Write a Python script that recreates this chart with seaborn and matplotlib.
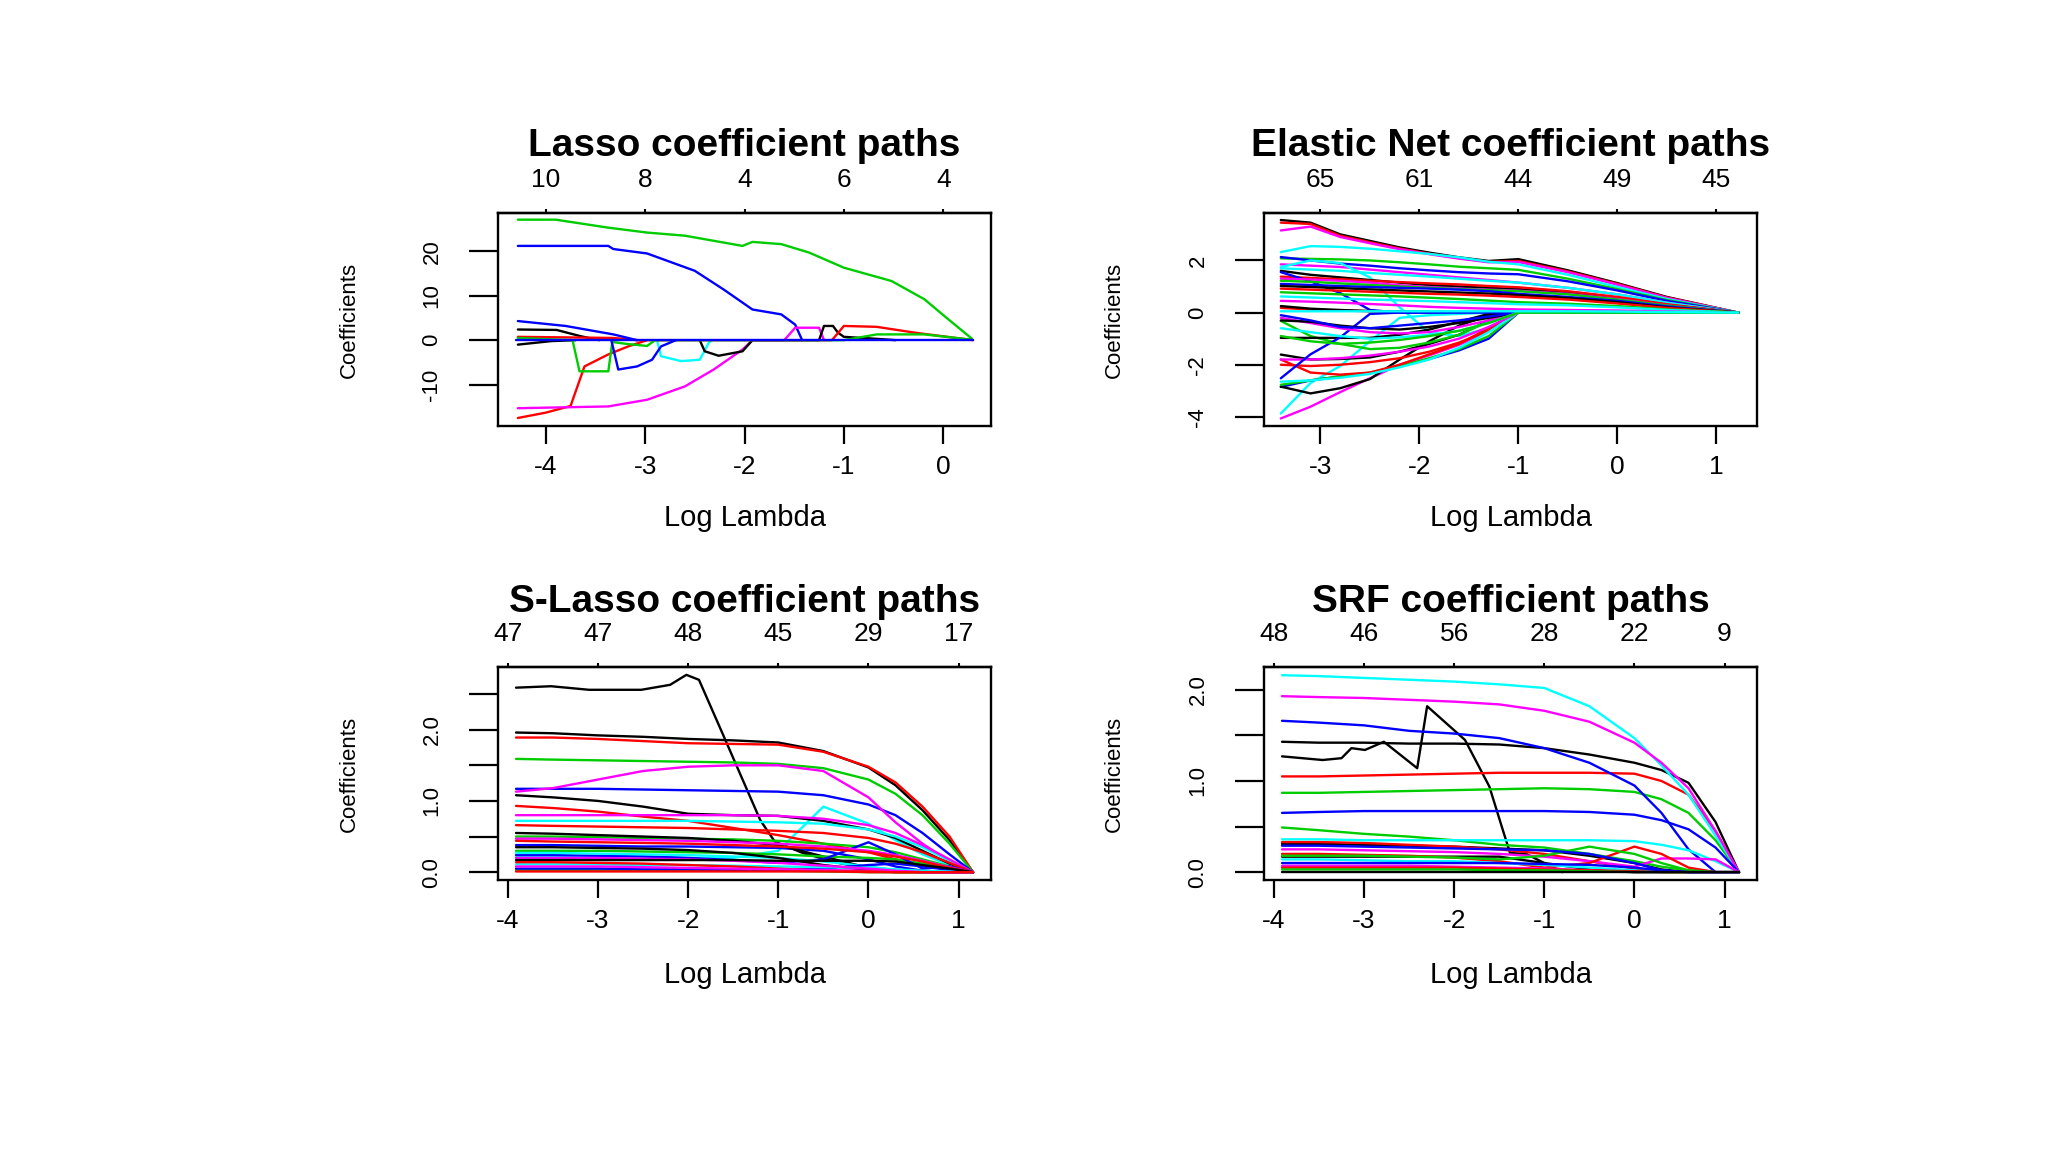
import numpy as np
import pandas as pd
import seaborn as sns
import matplotlib.pyplot as plt

# Set Theme
sns.set_theme(style="white", rc={"text.color": "black", "axes.labelcolor": "black",
                                 "xtick.color": "black", "ytick.color": "black"})
plt.rcParams["font.family"] = ["Liberation Sans", "DejaVu Sans"]

# R base palette 1:6 (glmnet plot colours)
R_PALETTE = {"k": "#000000", "r": "#FF0000", "g": "#00CD00",
             "b": "#0000FF", "c": "#00FFFF", "m": "#FF00FF"}

# ---------------- Lasso ----------------
LASSO_X = [
    [-4.28, -3.89, -3.65, -3.46],
    [-4.28, -3.94, -3.7],
    [-4.28, -4.0, -3.75, -3.61, -3.37, -3.17, -2.98],
    [-4.28, -3.9, -3.37, -2.98, -2.6, -2.02, -1.92, -1.63, -1.35, -1.0, -0.52, -0.19, 0.05, 0.29],
    [-4.28, -3.37, -3.32, -2.98, -2.5, -2.21, -1.92, -1.63, -1.49, -1.42],
    [-2.88, -2.84, -2.64, -2.45, -2.36, -2.33],
    [-4.28, -3.37, -2.98, -2.6, -2.31, -2.02, -1.92, -1.6, -1.49, -1.25, -1.2],
    [-2.45, -2.4, -2.26, -2.02, -1.92, -1.25, -1.2, -1.11, -1.06, -1.0, -0.67, -0.48],
    [-4.28, -3.32, -3.08, -1.12, -1.0, -0.67, -0.29, 0.3],
    [-4.28, -3.73, -3.66, -3.37, -3.33, -3.2, -2.98, -2.9, -1.0, -0.67, -0.19, 0.29],
    [-3.34, -3.27, -3.08, -2.93, -2.84, -2.69],
    [-4.28, -3.8, -3.32, -3.08],
    [-4.3, 0.3],
]
LASSO_Y = [
    [2.4, 2.3, 0.9, 0.0],
    [-1.0, -0.2, 0.0],
    [-17.5, -16.3, -14.8, -5.9, -3.2, -1.4, 0.0],
    [27.1, 27.1, 25.3, 24.2, 23.5, 21.2, 22.1, 21.6, 19.7, 16.3, 13.3, 9.2, 4.7, 0.3],
    [21.2, 21.2, 20.5, 19.5, 15.6, 11.4, 6.9, 5.8, 3.5, 0.0],
    [0.0, -3.6, -4.7, -4.4, -0.6, 0.0],
    [-15.3, -14.9, -13.4, -10.4, -6.6, -2.1, 0.0, 0.0, 2.8, 2.8, 0.0],
    [0.0, -2.5, -3.5, -2.5, 0.0, 0.0, 3.2, 3.2, 1.7, 0.75, 0.3, 0.0],
    [0.75, 0.5, 0.0, 0.0, 3.2, 3.0, 1.7, 0.0],
    [0.5, 0.0, -7.0, -7.0, -0.4, -0.8, -1.3, 0.0, 0.0, 1.3, 1.3, 0.1],
    [0.0, -6.6, -5.9, -4.4, -1.4, 0.0],
    [4.3, 3.2, 1.3, 0.0],
    [0.0, 0.0],
]
LASSO_COL = "kkrgbcmkrgbbb"
LASSO_DF_AT = [-4, -3, -2, -1, 0]
LASSO_DF = ["10", "8", "4", "6", "4"]

# ---------------- Elastic Net ----------------
EN_X = [-3.4, -3.1, -2.8, -2.5, -2.2, -1.9, -1.6, -1.3, -1.0, -0.5, 0.0, 0.5, 1.22]
EN_Y = [
    [3.55, 3.45, 3.0, 2.75, 2.5, 2.3, 2.12, 1.98, 2.05, 1.62, 1.13, 0.6, 0.0],
    [3.45, 3.4, 2.95, 2.7, 2.46, 2.26, 2.09, 1.95, 1.98, 1.58, 1.1, 0.58, 0.0],
    [3.15, 3.3, 2.9, 2.66, 2.43, 2.24, 2.07, 1.93, 1.94, 1.55, 1.07, 0.56, 0.0],
    [2.32, 2.55, 2.52, 2.45, 2.35, 2.25, 2.12, 1.95, 1.85, 1.45, 0.98, 0.52, 0.0],
    [2.08, 2.06, 2.04, 2.0, 1.93, 1.85, 1.76, 1.7, 1.64, 1.3, 0.9, 0.48, 0.0],
    [2.13, 2.0, 1.88, 1.8, 1.7, 1.62, 1.55, 1.5, 1.47, 1.2, 0.85, 0.45, 0.0],
    [1.85, 1.8, 1.75, 1.65, 1.55, 1.45, 1.35, 1.25, 1.15, 0.95, 0.7, 0.38, 0.0],
    [1.75, 2.0, 1.9, 1.35, 0.2, -0.77, -0.9, -0.6, 0.0, 0.0, 0.0, 0.0, 0.0],
    [1.7, 1.65, 1.6, 1.52, 1.45, 1.38, 1.3, 1.22, 1.15, 0.95, 0.7, 0.38, 0.0],
    [1.6, 1.45, 1.35, 1.25, 1.15, 1.05, 1.0, 0.95, 0.9, 0.78, 0.58, 0.3, 0.0],
    [1.38, 1.33, 1.28, 1.22, 1.17, 1.12, 1.08, 1.02, 0.97, 0.82, 0.6, 0.32, 0.0],
    [1.55, 1.2, 0.75, 0.1, 0.0, 0.0, 0.0, 0.0, 0.0, 0.0, 0.0, 0.0, 0.0],
    [1.3, 1.27, 1.22, 1.15, 1.05, 0.98, 0.92, 0.88, 0.84, 0.72, 0.52, 0.27, 0.0],
    [1.22, 1.18, 1.12, 1.06, 1.0, 0.95, 0.9, 0.86, 0.82, 0.7, 0.5, 0.27, 0.0],
    [1.1, 1.06, 1.02, 0.98, 0.95, 0.92, 0.88, 0.82, 0.72, 0.6, 0.45, 0.24, 0.0],
    [1.02, 0.98, 0.94, 0.89, 0.85, 0.81, 0.77, 0.73, 0.67, 0.56, 0.4, 0.2, 0.0],
    [0.92, 0.88, 0.84, 0.8, 0.76, 0.72, 0.69, 0.65, 0.6, 0.5, 0.35, 0.18, 0.0],
    [0.78, 0.74, 0.7, 0.66, 0.62, 0.57, 0.52, 0.46, 0.4, 0.34, 0.25, 0.12, 0.0],
    [0.62, 0.58, 0.54, 0.5, 0.47, 0.44, 0.4, 0.36, 0.32, 0.28, 0.2, 0.1, 0.0],
    [0.45, 0.42, 0.38, 0.33, 0.28, 0.22, 0.18, 0.15, 0.12, 0.1, 0.08, 0.04, 0.0],
    [0.18, 0.12, 0.08, 0.05, 0.04, 0.03, 0.02, 0.02, 0.02, 0.02, 0.01, 0.0, 0.0],
    [0.25, 0.15, 0.1, 0.06, 0.04, 0.03, 0.02, 0.02, 0.02, 0.01, 0.0, 0.0, 0.0],
    [-4.06, -3.61, -3.05, -2.52, -2.0, -1.64, -1.24, -0.71, 0.0, 0.0, 0.0, 0.0, 0.0],
    [-3.87, -2.7, -2.05, -1.1, -0.2, -0.1, -0.05, 0.0, 0.0, 0.0, 0.0, 0.0, 0.0],
    [-2.85, -2.6, -2.45, -2.32, -2.06, -1.78, -1.45, -1.0, 0.0, 0.0, 0.0, 0.0, 0.0],
    [-2.84, -3.1, -2.9, -2.55, -1.8, -1.1, -0.5, -0.1, 0.0, 0.0, 0.0, 0.0, 0.0],
    [-2.77, -2.6, -2.45, -2.3, -2.05, -1.75, -1.4, -0.9, 0.0, 0.0, 0.0, 0.0, 0.0],
    [-1.8, -2.3, -2.38, -2.3, -2.0, -1.6, -1.2, -0.6, 0.0, 0.0, 0.0, 0.0, 0.0],
    [-2.0, -2.05, -2.0, -1.9, -1.75, -1.5, -1.15, -0.7, 0.0, 0.0, 0.0, 0.0, 0.0],
    [-2.65, -2.6, -2.5, -2.35, -2.1, -1.8, -1.35, -0.75, 0.0, 0.0, 0.0, 0.0, 0.0],
    [-1.61, -1.8, -1.78, -1.72, -1.5, -1.2, -0.85, -0.3, 0.0, 0.0, 0.0, 0.0, 0.0],
    [-1.8, -1.8, -1.75, -1.65, -1.5, -1.3, -1.0, -0.55, 0.0, 0.0, 0.0, 0.0, 0.0],
    [-0.32, -0.9, -1.2, -1.4, -1.35, -1.15, -0.85, -0.35, 0.0, 0.0, 0.0, 0.0, 0.0],
    [-0.97, -0.97, -0.97, -0.97, -0.85, -0.65, -0.35, -0.05, 0.0, 0.0, 0.0, 0.0, 0.0],
    [-2.52, -1.6, -0.95, -0.05, 0.0, 0.0, 0.0, 0.0, 0.0, 0.0, 0.0, 0.0, 0.0],
    [-0.2, -0.4, -0.6, -0.75, -0.8, -0.75, -0.55, -0.3, 0.0, 0.0, 0.0, 0.0, 0.0],
    [-0.3, -0.35, -0.5, -0.6, -0.65, -0.55, -0.4, -0.2, 0.0, 0.0, 0.0, 0.0, 0.0],
    [-0.1, -0.3, -0.55, -0.6, -0.5, -0.4, -0.3, -0.15, 0.0, 0.0, 0.0, 0.0, 0.0],
    [-0.6, -0.75, -0.9, -1.0, -0.95, -0.85, -0.7, -0.4, 0.0, 0.0, 0.0, 0.0, 0.0],
    [-0.9, -1.1, -1.2, -1.15, -1.05, -0.9, -0.7, -0.4, 0.0, 0.0, 0.0, 0.0, 0.0],
    [0.05, 0.05, 0.05, 0.05, 0.05, 0.05, 0.05, 0.05, 0.05, 0.05, 0.04, 0.02, 0.0],
]
EN_COL = "krmcgbmcckrbmgbkrgcmrk" + "mcbkgrrckmgkbmkbcgc"
EN_DF_AT = [-3, -2, -1, 0, 1]
EN_DF = ["65", "61", "44", "49", "45"]

# ---------------- S-Lasso ----------------
SL_X = [-3.91, -3.5, -3.0, -2.5, -2.0, -1.5, -1.0, -0.5, 0.0, 0.3, 0.6, 0.9, 1.16]
SL_PEAK_X = [-3.91, -3.52, -3.1, -2.52, -2.2, -2.02, -1.88, -1.62, -1.41, -1.2, -1.04, -0.73, -0.3, 0.2, 0.6, 1.16]
SL_PEAK_Y = [2.59, 2.61, 2.56, 2.56, 2.63, 2.77, 2.7, 1.95, 1.34, 0.73, 0.43, 0.27, 0.12, 0.04, 0.01, 0.0]
SL_Y = [
    [1.96, 1.95, 1.92, 1.9, 1.87, 1.85, 1.82, 1.7, 1.47, 1.22, 0.87, 0.45, 0.0],
    [1.89, 1.89, 1.87, 1.84, 1.81, 1.8, 1.79, 1.69, 1.48, 1.26, 0.92, 0.5, 0.0],
    [1.59, 1.58, 1.57, 1.56, 1.55, 1.54, 1.52, 1.46, 1.3, 1.1, 0.8, 0.4, 0.0],
    [1.17, 1.17, 1.17, 1.16, 1.15, 1.14, 1.13, 1.08, 0.95, 0.8, 0.55, 0.25, 0.0],
    [0.22, 0.22, 0.22, 0.22, 0.2, 0.2, 0.3, 0.92, 0.68, 0.45, 0.25, 0.1, 0.0],
    [1.13, 1.18, 1.3, 1.42, 1.48, 1.5, 1.5, 1.42, 1.05, 0.7, 0.4, 0.15, 0.0],
    [1.08, 1.05, 1.0, 0.92, 0.82, 0.8, 0.79, 0.72, 0.6, 0.48, 0.3, 0.12, 0.0],
    [0.93, 0.9, 0.85, 0.78, 0.72, 0.62, 0.52, 0.4, 0.28, 0.18, 0.1, 0.04, 0.0],
    [0.5, 0.5, 0.49, 0.48, 0.47, 0.46, 0.44, 0.4, 0.35, 0.28, 0.18, 0.08, 0.0],
    [0.38, 0.38, 0.37, 0.36, 0.36, 0.35, 0.34, 0.3, 0.18, 0.08, 0.02, 0.0, 0.0],
    [0.72, 0.72, 0.72, 0.72, 0.72, 0.71, 0.7, 0.68, 0.6, 0.5, 0.35, 0.16, 0.0],
    [0.8, 0.8, 0.8, 0.8, 0.8, 0.8, 0.79, 0.75, 0.66, 0.55, 0.38, 0.18, 0.0],
    [0.55, 0.54, 0.52, 0.5, 0.48, 0.44, 0.38, 0.22, 0.06, 0.02, 0.0, 0.0, 0.0],
    [0.66, 0.65, 0.64, 0.63, 0.62, 0.6, 0.58, 0.55, 0.48, 0.4, 0.28, 0.13, 0.0],
    [0.3, 0.3, 0.3, 0.29, 0.28, 0.27, 0.25, 0.22, 0.2, 0.18, 0.12, 0.05, 0.0],
    [0.24, 0.24, 0.23, 0.22, 0.2, 0.17, 0.13, 0.18, 0.42, 0.25, 0.05, 0.08, 0.0],
    [0.27, 0.27, 0.26, 0.25, 0.24, 0.22, 0.2, 0.15, 0.08, 0.03, 0.0, 0.0, 0.0],
    [0.47, 0.47, 0.46, 0.45, 0.44, 0.42, 0.4, 0.36, 0.3, 0.24, 0.16, 0.07, 0.0],
    [0.35, 0.35, 0.34, 0.33, 0.31, 0.27, 0.2, 0.1, 0.03, 0.0, 0.0, 0.0, 0.0],
    [0.44, 0.43, 0.42, 0.41, 0.4, 0.38, 0.36, 0.33, 0.28, 0.22, 0.15, 0.06, 0.0],
    [0.03, 0.03, 0.03, 0.03, 0.02, 0.02, 0.02, 0.01, 0.0, 0.0, 0.0, 0.0, 0.0],
    [0.05, 0.05, 0.05, 0.04, 0.04, 0.03, 0.03, 0.05, 0.1, 0.12, 0.08, 0.03, 0.0],
    [0.11, 0.11, 0.11, 0.1, 0.1, 0.09, 0.08, 0.07, 0.06, 0.04, 0.02, 0.01, 0.0],
    [0.2, 0.2, 0.2, 0.19, 0.18, 0.16, 0.13, 0.09, 0.05, 0.02, 0.0, 0.0, 0.0],
    [0.17, 0.17, 0.17, 0.17, 0.17, 0.17, 0.16, 0.16, 0.16, 0.15, 0.1, 0.05, 0.0],
    [0.14, 0.14, 0.13, 0.12, 0.1, 0.08, 0.05, 0.02, 0.0, 0.0, 0.0, 0.0, 0.0],
    [0.08, 0.08, 0.08, 0.07, 0.06, 0.05, 0.04, 0.03, 0.02, 0.01, 0.0, 0.0, 0.0],
    [0.01, 0.01, 0.01, 0.01, 0.01, 0.01, 0.01, 0.01, 0.01, 0.0, 0.0, 0.0, 0.0],
]
SL_COL = "k" + "krgbcmkrgbcmkrgbcmkrgbcmkrm" + "r"
SL_DF_AT = [-4, -3, -2, -1, 0, 1]
SL_DF = ["47", "47", "48", "45", "29", "17"]

# ---------------- SRF ----------------
SRF_X = [-3.91, -3.5, -3.0, -2.5, -2.0, -1.5, -1.0, -0.5, 0.0, 0.3, 0.6, 0.9, 1.16]
SRF_WIGGLE_X = [-3.91, -3.46, -3.25, -3.14, -2.99, -2.78, -2.41, -2.3, -1.88, -1.61, -1.45, -1.38, -1.2, -1.0, -0.8]
SRF_WIGGLE_Y = [1.27, 1.23, 1.25, 1.36, 1.34, 1.43, 1.14, 1.82, 1.45, 0.94, 0.43, 0.21, 0.2, 0.1, 0.0]
SRF_Y = [
    [1.43, 1.42, 1.42, 1.41, 1.41, 1.4, 1.36, 1.29, 1.2, 1.12, 0.98, 0.55, 0.0],
    [1.05, 1.05, 1.06, 1.07, 1.08, 1.09, 1.09, 1.09, 1.08, 1.0, 0.85, 0.45, 0.0],
    [0.87, 0.87, 0.88, 0.89, 0.9, 0.91, 0.92, 0.91, 0.88, 0.8, 0.65, 0.35, 0.0],
    [1.66, 1.64, 1.61, 1.55, 1.52, 1.47, 1.36, 1.2, 0.95, 0.65, 0.25, 0.0, 0.0],
    [2.16, 2.15, 2.13, 2.11, 2.09, 2.06, 2.02, 1.82, 1.47, 1.17, 0.85, 0.4, 0.0],
    [1.93, 1.92, 1.91, 1.89, 1.87, 1.84, 1.77, 1.65, 1.42, 1.2, 0.92, 0.45, 0.0],
    [0.31, 0.31, 0.3, 0.29, 0.28, 0.26, 0.24, 0.18, 0.1, 0.03, 0.0, 0.0, 0.0],
    [0.33, 0.33, 0.32, 0.3, 0.28, 0.25, 0.2, 0.12, 0.04, 0.0, 0.0, 0.0, 0.0],
    [0.49, 0.46, 0.42, 0.39, 0.35, 0.3, 0.27, 0.2, 0.12, 0.06, 0.02, 0.0, 0.0],
    [0.65, 0.66, 0.67, 0.67, 0.67, 0.67, 0.67, 0.66, 0.63, 0.57, 0.47, 0.27, 0.0],
    [0.36, 0.36, 0.35, 0.35, 0.35, 0.35, 0.35, 0.35, 0.34, 0.3, 0.24, 0.12, 0.0],
    [0.25, 0.25, 0.24, 0.23, 0.22, 0.2, 0.17, 0.12, 0.06, 0.15, 0.15, 0.14, 0.0],
    [0.17, 0.17, 0.17, 0.17, 0.17, 0.17, 0.1, 0.03, 0.0, 0.0, 0.0, 0.0, 0.0],
    [0.2, 0.2, 0.19, 0.18, 0.16, 0.12, 0.05, 0.1, 0.28, 0.2, 0.05, 0.0, 0.0],
    [0.18, 0.18, 0.18, 0.17, 0.16, 0.14, 0.18, 0.28, 0.2, 0.1, 0.02, 0.0, 0.0],
    [0.29, 0.29, 0.28, 0.27, 0.26, 0.25, 0.24, 0.2, 0.1, 0.02, 0.0, 0.0, 0.0],
    [0.14, 0.14, 0.13, 0.12, 0.12, 0.1, 0.08, 0.05, 0.02, 0.0, 0.0, 0.0, 0.0],
    [0.07, 0.07, 0.07, 0.07, 0.06, 0.05, 0.04, 0.02, 0.0, 0.0, 0.0, 0.0, 0.0],
    [0.05, 0.05, 0.05, 0.05, 0.05, 0.04, 0.03, 0.02, 0.01, 0.0, 0.0, 0.0, 0.0],
    [0.03, 0.03, 0.03, 0.03, 0.03, 0.02, 0.02, 0.01, 0.0, 0.0, 0.0, 0.0, 0.0],
    [0.1, 0.1, 0.1, 0.1, 0.1, 0.1, 0.09, 0.08, 0.05, 0.02, 0.0, 0.0, 0.0],
    [0.0, 0.0, 0.0, 0.0, 0.0, 0.0, 0.0, 0.0, 0.0, 0.0, 0.0, 0.0, 0.0],
]
SRF_COL = "k" + "krgbcmkrgbcmkrgbcmrgbk"
SRF_DF_AT = [-4, -3, -2, -1, 0, 1]
SRF_DF = ["48", "46", "56", "28", "22", "9"]

# ---------------- layout (pixels on a 2048 x 1152 canvas) ----------------
W, H = 2048, 1152
fig = plt.figure(figsize=(W / 100, H / 100), dpi=100)
fig.patch.set_facecolor("white")


def build_frame(xs_list, ys_list):
    recs = []
    for i, (xs, ys) in enumerate(zip(xs_list, ys_list)):
        for x, y in zip(xs, ys):
            recs.append({"path": f"p{i:02d}", "loglam": x, "coef": y})
    return pd.DataFrame(recs)


def draw_panel(box, xs_list, ys_list, cols, title, xlim, ylim, yticks, ylabs,
               xticks, df_at, df_labs, title_y, xlab_y, ylab_x):
    left, top, right, bottom = box
    ax = fig.add_axes([left / W, 1 - bottom / H, (right - left) / W, (bottom - top) / H])
    df = build_frame(xs_list, ys_list)
    order = [f"p{i:02d}" for i in range(len(ys_list))]
    pal = {p: R_PALETTE[c] for p, c in zip(order, cols)}
    sns.lineplot(data=df, x="loglam", y="coef", hue="path", hue_order=order,
                 units="path", estimator=None, sort=False, palette=pal,
                 legend=False, linewidth=1.7, ax=ax)
    ax.set(xlim=xlim, ylim=ylim, xlabel="", ylabel="")
    ax.set_xticks(xticks, [f"{t:g}" for t in xticks])
    ax.set_yticks(yticks, ylabs)
    ax.tick_params(axis="x", direction="out", bottom=True, length=13, width=1.6,
                   labelsize=19, pad=8, color="black", labelcolor="black")
    ax.tick_params(axis="y", direction="out", left=True, length=21, width=1.6,
                   labelsize=16, pad=19, labelrotation=90, color="black",
                   labelcolor="black")
    for lbl in ax.get_yticklabels():
        lbl.set_va("center")
    for s in ax.spines.values():
        s.set_visible(True)
        s.set_color("black")
        s.set_linewidth(1.7)
    ax.grid(False)

    top_ax = ax.secondary_xaxis("top")
    top_ax.set_xticks(df_at, df_labs)
    top_ax.tick_params(direction="out", length=3, width=1.5, labelsize=19, pad=12,
                       color="black", labelcolor="black")
    top_ax.spines["top"].set_linewidth(1.7)

    cx = (left + right) / 2 / W
    fig.text(cx, 1 - title_y / H, title, ha="center", va="center",
             fontsize=28, fontweight="bold", color="black")
    fig.text(cx, 1 - xlab_y / H, "Log Lambda", ha="center", va="center",
             fontsize=21, color="black")
    fig.text(ylab_x / W, 1 - (top + bottom) / 2 / H, "Coefficients", ha="center",
             va="center", rotation=90, fontsize=16, color="black")
    return ax


draw_panel((498, 213, 991, 426), LASSO_X, LASSO_Y, LASSO_COL,
           "Lasso coefficient paths", (-4.48, 0.48), (-19.3, 28.6),
           [-10, 0, 10, 20], ["-10", "0", "10", "20"],
           [-4, -3, -2, -1, 0], LASSO_DF_AT, LASSO_DF, 146, 518, 349)

draw_panel((1264, 213, 1757, 426), [EN_X] * len(EN_Y), EN_Y, EN_COL,
           "Elastic Net coefficient paths", (-3.57, 1.41), (-4.35, 3.82),
           [-4, -2, 0, 2], ["-4", "-2", "0", "2"],
           [-3, -2, -1, 0, 1], EN_DF_AT, EN_DF, 146, 518, 1114)

draw_panel((498, 667, 991, 880), [SL_PEAK_X] + [SL_X] * len(SL_Y), [SL_PEAK_Y] + SL_Y, SL_COL,
           "S-Lasso coefficient paths", (-4.11, 1.36), (-0.11, 2.88),
           [0.0, 0.5, 1.0, 1.5, 2.0, 2.5], ["0.0", "", "1.0", "", "2.0", ""],
           [-4, -3, -2, -1, 0, 1], SL_DF_AT, SL_DF, 602, 975, 349)

draw_panel((1264, 667, 1757, 880), [SRF_WIGGLE_X] + [SRF_X] * len(SRF_Y), [SRF_WIGGLE_Y] + SRF_Y, SRF_COL,
           "SRF coefficient paths", (-4.11, 1.36), (-0.086, 2.25),
           [0.0, 0.5, 1.0, 1.5, 2.0], ["0.0", "", "1.0", "", "2.0"],
           [-4, -3, -2, -1, 0, 1], SRF_DF_AT, SRF_DF, 602, 975, 1114)

fig.savefig("out.png", dpi=100, facecolor="white")
